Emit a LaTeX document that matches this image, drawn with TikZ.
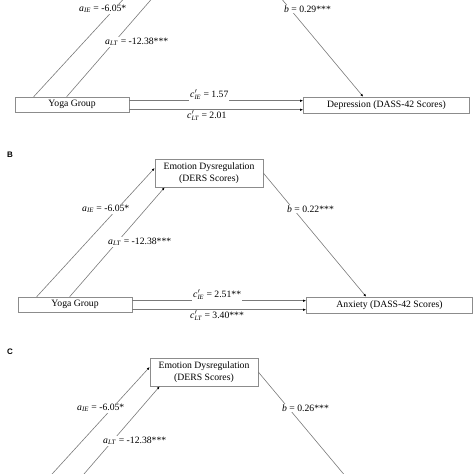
\documentclass[tikz,border=0pt]{standalone}
\usepackage{fontspec}
\setmainfont{Liberation Serif}
\newfontfamily\panelfont{Liberation Sans}
\usetikzlibrary{arrows.meta,calc}
\definecolor{boxgray}{HTML}{8C8C8C}
\definecolor{linegray}{HTML}{7A7A7A}
\newcommand{\sub}[1]{\textsubscript{\textit{#1}}}
\newcommand{\cpr}[1]{\textit{c}$^{\prime}_{\mbox{\fontsize{6.5}{7}\selectfont\itshape #1}}$}
\begin{document}
\begin{tikzpicture}[x=1pt,y=-1pt,
  box/.style={draw=boxgray,line width=0.6pt,fill=white,inner sep=0pt,
    font=\fontsize{9.7}{11.5}\selectfont,align=center},
  link/.style={draw=linegray,line width=0.6pt,
    -{Latex[length=3pt,width=2.4pt,color=black]}},
  lab/.style={fill=white,inner sep=1pt,anchor=west,font=\fontsize{9.7}{11}\selectfont},
  plabel/.style={font=\panelfont\bfseries\fontsize{8}{9}\selectfont}]
\useasboundingbox (0,0) rectangle (474,474);
\clip (0,0) rectangle (474,474);

% ---------------- Panel A ----------------
\begin{scope}[shift={(-3,-200)}]
  \node[box,minimum width=114pt,minimum height=15pt] (yA) at (75,304.5) {Yoga Group};
  \node[box,minimum width=166pt,minimum height=16pt] (oA) at (389.5,305) {Depression (DASS-42 Scores)};
  \coordinate (mA1) at (155,168);
  \coordinate (mA2) at (165,187);
  \coordinate (mA3) at (263,173);
  \draw[link] ($(yA.north west)+(19,0)$) -- (mA1);
  \draw[link] ($(yA.north west)+(52,0)$) -- (mA2);
  \draw[link] (mA3) -- ($(oA.north west)+(60,0)$);
  \draw[link] ($(yA.north east)+(0,4)$) coordinate (tA1) -- (tA1 -| oA.west);
  \draw[link] ($(yA.north east)+(0,13)$) coordinate (tA2) -- (tA2 -| oA.west);
  \node[lab] (aA1) at (81,209) {\textit{a}\sub{IE} = -6.05*};
  \node[lab] (aA2) at (107,242) {\textit{a}\sub{LT} = -12.38***};
  \node[lab] (bA) at (286,209) {\textit{b} = 0.29***};
  \node[lab] (cA1) at (192,295) {\cpr{IE} = 1.57};
  \node[lab] (cA2) at (189,316) {\cpr{LT} = 2.01};
\end{scope}

% ---------------- Panel B ----------------
\node[plabel] (pB) at (10,155) {B};
\begin{scope}
  \node[box,minimum width=108pt,minimum height=28pt] (mB) at (209,173) {Emotion Dysregulation\\(DERS Scores)};
  \node[box,minimum width=114pt,minimum height=15pt] (yB) at (75,304.5) {Yoga Group};
  \node[box,minimum width=166pt,minimum height=16pt] (oB) at (389.5,305) {Anxiety (DASS-42 Scores)};
  \draw[link] ($(yB.north west)+(19,0)$) -- ($(mB.west)+(0,-5)$);
  \draw[link] ($(yB.north west)+(52,0)$) -- ($(mB.south west)+(10,0)$);
  \draw[link] (mB.east) -- ($(oB.north west)+(60,0)$);
  \draw[link] ($(yB.north east)+(0,4)$) coordinate (tB1) -- (tB1 -| oB.west);
  \draw[link] ($(yB.north east)+(0,13)$) coordinate (tB2) -- (tB2 -| oB.west);
  \node[lab] (aB1) at (81,209) {\textit{a}\sub{IE} = -6.05*};
  \node[lab] (aB2) at (107,242) {\textit{a}\sub{LT} = -12.38***};
  \node[lab] (bB) at (286,209) {\textit{b} = 0.22***};
  \node[lab] (cB1) at (192,295) {\cpr{IE} = 2.51**};
  \node[lab] (cB2) at (189,316) {\cpr{LT} = 3.40***};
\end{scope}

% ---------------- Panel C ----------------
\node[plabel] (pC) at (10,352) {C};
\begin{scope}[shift={(-5,199)}]
  \node[box,minimum width=108pt,minimum height=28pt] (mC) at (209,173) {Emotion Dysregulation\\(DERS Scores)};
  \coordinate (yC1) at (37,297);
  \coordinate (yC2) at (70,297);
  \coordinate (oC) at (367,297);
  \draw[link] (yC1) -- ($(mC.west)+(0,-5)$);
  \draw[link] (yC2) -- ($(mC.south west)+(10,0)$);
  \draw[link] (mC.east) -- (oC);
  \node[lab] (aC1) at (81,209) {\textit{a}\sub{IE} = -6.05*};
  \node[lab] (aC2) at (107,242) {\textit{a}\sub{LT} = -12.38***};
  \node[lab] (bC) at (286,209) {\textit{b} = 0.26***};
\end{scope}
\end{tikzpicture}
\end{document}
